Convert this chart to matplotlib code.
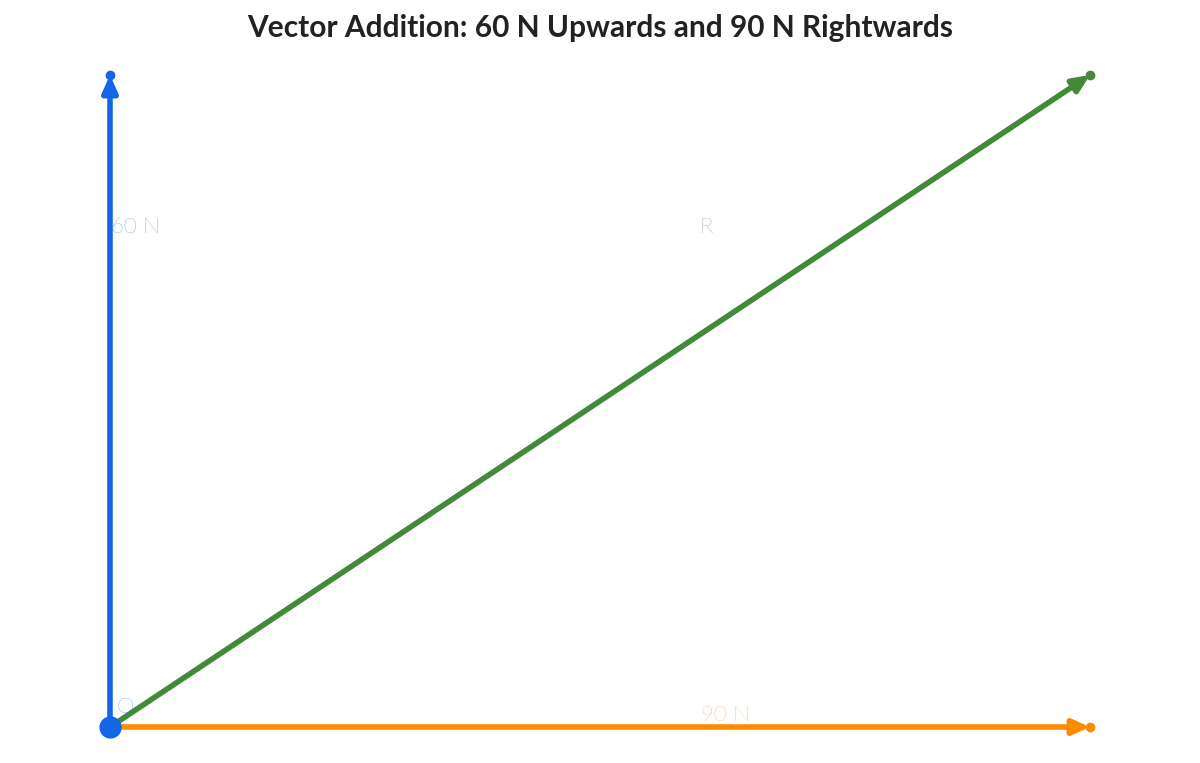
import matplotlib
matplotlib.use("Agg")
import matplotlib.pyplot as plt

labels = ["60 N", "90 N", "R"]
vec_x = [0, 90, 90]
vec_y = [60, 0, 60]
colors = ["#1565e8", "#fb8c00", "#43893a"]

fig = plt.figure(figsize=(12, 7.63), dpi=100)
ax = fig.add_axes([110/1200, 36/763, 980/1200, 652/763])
ax.set_xlim(0, 90)
ax.set_ylim(0, 60)
ax.axis("off")

for vx, vy, c in zip(vec_x, vec_y, colors):
    ax.annotate("", xy=(vx, vy), xytext=(0, 0),
                arrowprops=dict(arrowstyle="-|>,head_length=1.0,head_width=0.45",
                                color=c, lw=4.0, shrinkA=0, shrinkB=0),
                annotation_clip=False)
    ax.plot([vx], [vy], "o", color=c, ms=6, clip_on=False, zorder=5)

ax.plot([0], [0], "o", color=colors[0], ms=15, clip_on=False, zorder=6)

kw = dict(fontsize=16, ha="center", va="center", family="Lato", fontweight="light")
ax.text(2.3, 46, labels[0], color=colors[0], **kw)
ax.text(56.5, 1.1, labels[1], color=colors[1], **kw)
ax.text(54.7, 46, labels[2], color=colors[2], **kw)
ax.text(1.4, 1.8, "O", color=colors[0], **kw)

fig.text(0.5, 1 - 28/763, "Vector Addition: 60 N Upwards and 90 N Rightwards",
         ha="center", va="center", fontsize=21.5, fontweight="bold", color="#222222", family="Lato")

fig.savefig("out.png", dpi=100, facecolor="white")
